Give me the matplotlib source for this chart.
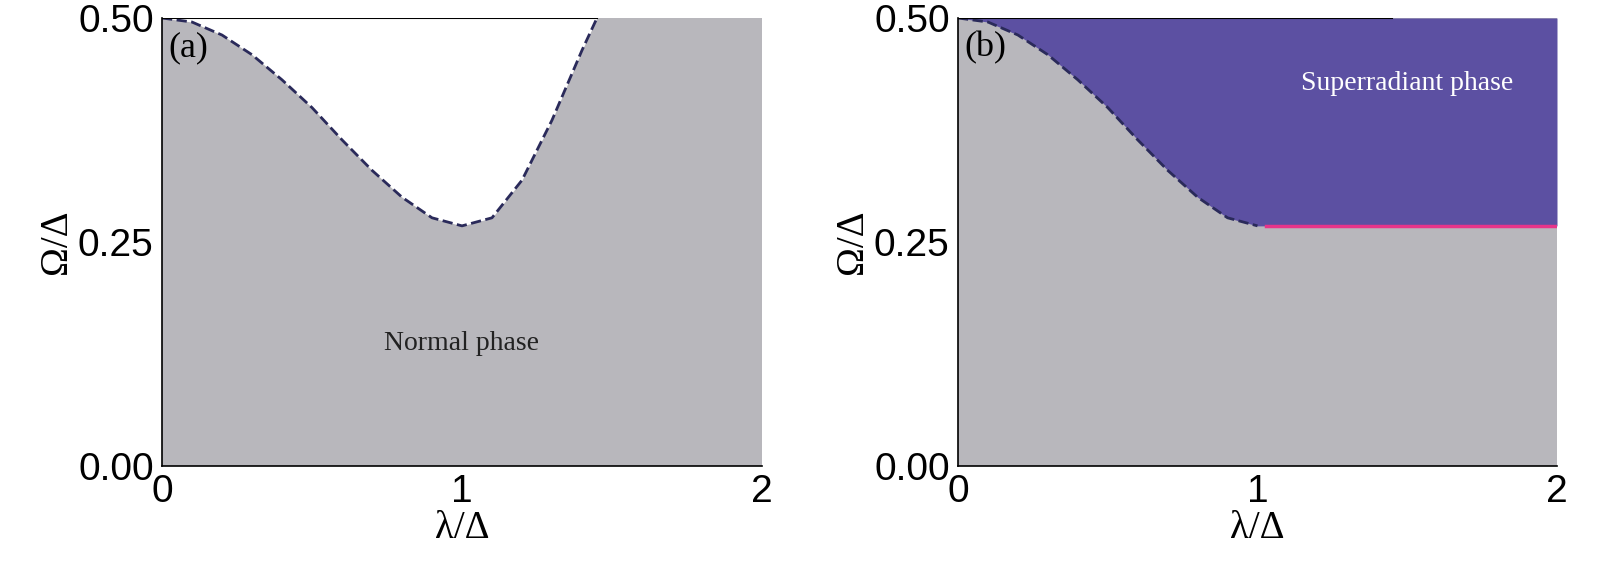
import numpy as np
import matplotlib
matplotlib.use("Agg")
import matplotlib.pyplot as plt

lam = [0.0, 0.1, 0.2, 0.3, 0.4, 0.5, 0.6, 0.7, 0.8, 0.9, 1.0, 1.1, 1.2, 1.3, 1.4, 1.45]
omega = [0.5, 0.4955, 0.481, 0.459, 0.431, 0.400, 0.364, 0.330, 0.300, 0.277, 0.268, 0.277, 0.319, 0.386, 0.464, 0.5]
omega_c = 0.268
xticks = [0, 1, 2]
yticks = [0.0, 0.25, 0.5]
ytick_labels = ["0.00", "0.25", "0.50"]

gray = "#b8b7bc"; purple = "#5c50a2"; pink = "#e8348a"; dash = "#2a2a5a"

fig = plt.figure(figsize=(16, 5.72), dpi=100)
axA = fig.add_axes([162/1600, 1-466/572, 600/1600, 448/572])
axB = fig.add_axes([958/1600, 1-466/572, 599/1600, 448/572])

lam = np.array(lam); omega = np.array(omega)

# (a)
axA.fill_between([0, 2], 0, 0.5, color=gray, lw=0)
axA.fill_between(lam, omega, 0.5, color="white", lw=0)
axA.plot(lam, omega, ls="--", color=dash, lw=2)
axA.plot([lam[0], lam[-1]], [0.5, 0.5], color="black", lw=1.5)
axA.text(1.0, 0.13, "Normal phase", family="Liberation Serif", fontsize=20, ha="center", color="#222222")
axA.text(0.02, 0.485, "(a)", family="Liberation Serif", fontsize=26, va="top")

# (b)
left = lam <= 1.0
bl = np.concatenate([lam[left], [2.0]])
bo = np.concatenate([omega[left], [omega_c]])
axB.fill_between([0, 2], 0, 0.5, color=gray, lw=0)
axB.fill_between(bl, bo, 0.5, color=purple, lw=0)
axB.plot(lam[left], omega[left], ls="--", color=dash, lw=2)
axB.plot([1.03, 2.0], [omega_c, omega_c], color=pink, lw=2.5)
axB.plot([lam[0], lam[-1]], [0.5, 0.5], color="black", lw=1.5)
axB.text(1.5, 0.42, "Superradiant phase", family="Liberation Serif", fontsize=20, ha="center", color="white")
axB.text(0.02, 0.485, "(b)", family="Liberation Serif", fontsize=26, va="top")

for ax in (axA, axB):
    ax.set_xlim(0, 2); ax.set_ylim(0, 0.5)
    ax.set_xticks(xticks); ax.set_yticks(yticks)
    ax.set_yticklabels(ytick_labels)
    for lab in ax.get_xticklabels() + ax.get_yticklabels():
        lab.set_family("Liberation Sans"); lab.set_fontsize(28)
    ax.tick_params(length=0, pad=6)
    for s in ("top", "right"):
        ax.spines[s].set_visible(False)
    for s in ("left", "bottom"):
        ax.spines[s].set_linewidth(1.2)
    ax.set_xlabel("λ/Δ", family="Liberation Serif", fontsize=28, labelpad=0)
    ax.set_ylabel("Ω/Δ", family="Liberation Serif", fontsize=28, labelpad=2)

fig.savefig("out.png", dpi=100)
